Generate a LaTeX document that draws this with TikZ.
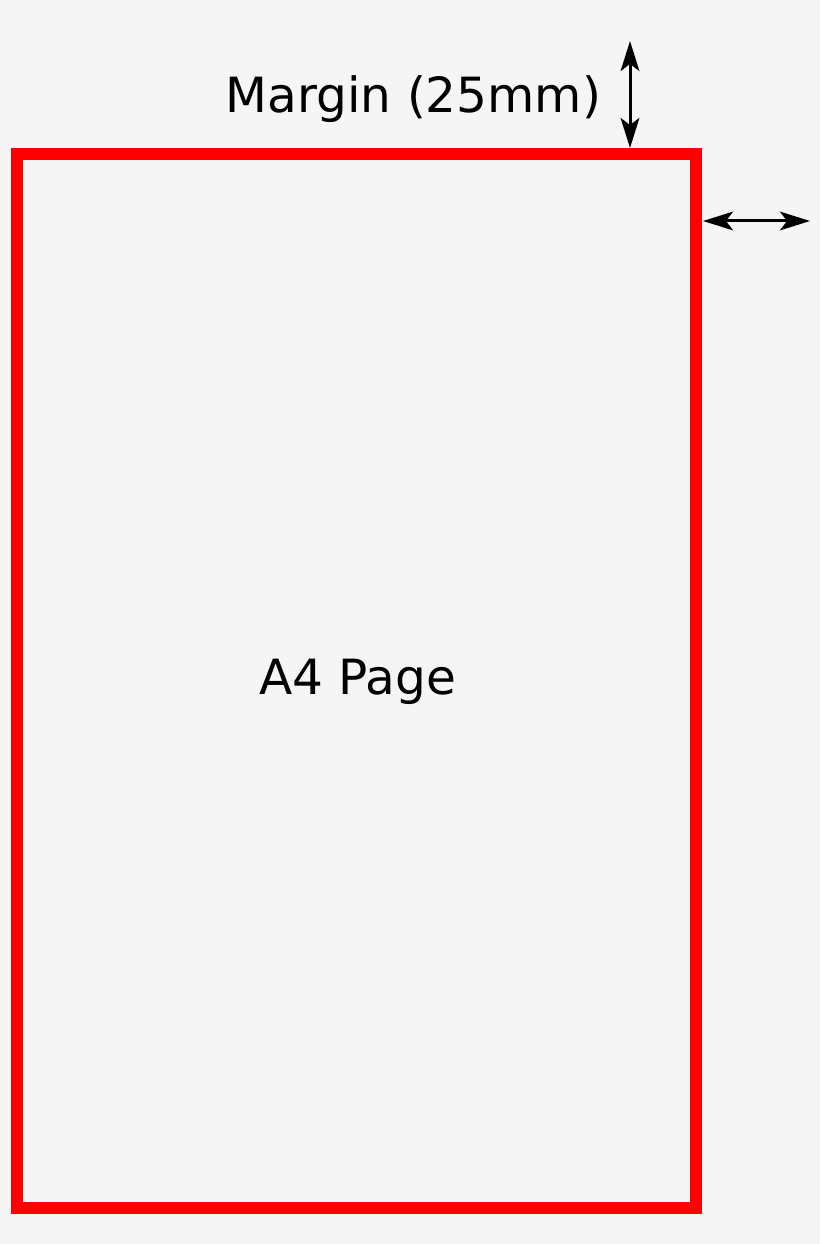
\documentclass[tikz,border=0pt]{standalone}
\usepackage{fontspec}
\setmainfont{DejaVu Sans}
\usetikzlibrary{arrows.meta}

\definecolor{pagebg}{RGB}{245,245,245}
\definecolor{marginred}{RGB}{255,0,0}

\tikzset{every picture/.style={line width=0.75pt}}
\tikzset{
	pageframe/.style={draw=marginred, line width=8.6pt, minimum width=509pt, minimum height=790.5pt, inner sep=0pt},
	pagelabel/.style={inner sep=0pt, anchor=base, font=\fontsize{36.4}{44}\selectfont},
	marginarrow/.style={line width=2.25pt, {Stealth[length=22.5pt,width=14pt,inset=5.3pt]}-{Stealth[length=22.5pt,width=14pt,inset=5.3pt]}},
	marginlabel/.style={anchor=base, inner sep=0pt, font=\fontsize{36.4}{44}\selectfont}
}

\begin{document}
\begin{tikzpicture}[x=0.75pt,y=0.75pt,yscale=-1,xscale=1]
		%set diagram left start at 0, and has height of 1244
		\fill[pagebg] (0,0) rectangle (820,1244);
		\useasboundingbox (0,0) rectangle (820,1244);
		
		%Shape: Rectangle (page)
		\node[pageframe] (page) at (356.5,681) {};
		% Text Node
		\node[pagelabel] (pagetext) at (357.5,694.3) {A4 Page};
		
		%Coordinates for the margin arrows
		\coordinate (topstart) at (630,41);
		\coordinate (topend) at (630,148);
		\coordinate (sidestart) at (703,221);
		\coordinate (sideend) at (810,221);
		
		%Straight Lines (margins)
		\draw[marginarrow] (topstart) -- (topend);
		\draw[marginarrow] (sidestart) -- (sideend);
		
		% Text Node
		\node[marginlabel] (margintext) at (413.5,112.7) {Margin (25mm)};
\end{tikzpicture}
\end{document}
